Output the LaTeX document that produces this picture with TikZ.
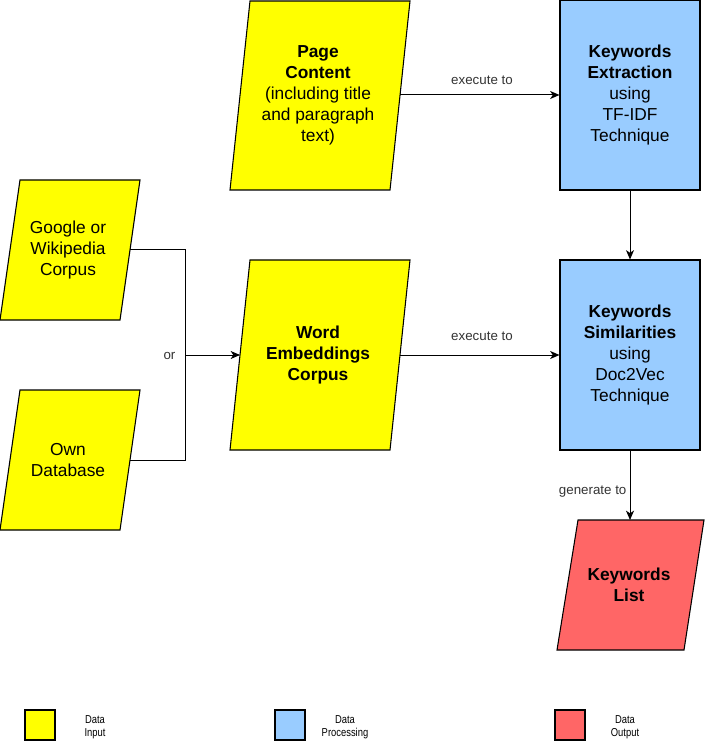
\documentclass[tikz,border=0pt]{standalone}
\usepackage{fontspec}
\setmainfont{Liberation Sans}
\newfontfamily\legfont[FakeStretch=0.82]{Liberation Sans}
\usetikzlibrary{arrows.meta}
\definecolor{datain}{HTML}{FFFF00}
\definecolor{dataproc}{HTML}{99CCFF}
\definecolor{dataout}{HTML}{FF6666}
\definecolor{lbl}{HTML}{333333}
\tikzset{
  shapeline/.style={draw=black, line width=0.8pt},
  inbox/.style={shapeline, fill=datain},
  outbox/.style={shapeline, fill=dataout},
  procbox/.style={shapeline, fill=dataproc, minimum width=105pt, minimum height=142.5pt, inner sep=0pt},
  txt/.style={align=center, font=\fontsize{13}{15.8}\selectfont, text=black, inner sep=1pt},
  conn/.style={draw=black, line width=0.75pt},
  arr/.style={conn, -{Stealth[length=7pt,width=6pt,inset=2pt]}},
  lab/.style={font=\fontsize{10}{12}\selectfont, text=lbl, inner sep=1pt},
  legbox/.style={shapeline, minimum width=22.5pt, minimum height=22.5pt, inner sep=0pt},
  legtxt/.style={align=center, font=\legfont\fontsize{8.6}{10}\selectfont, text=black, inner sep=0pt},
}
\begin{document}
\begin{tikzpicture}[x=0.75pt, y=-0.75pt]
\useasboundingbox (0,0) rectangle (704,741);

% Page Content
\draw[inbox] (250,1) -- (410,1) -- (390,190) -- (230,190) -- cycle;
\node[txt] (page) at (318,95) {\textbf{Page}\\\textbf{Content}\\(including title\\and paragraph\\text)};
\coordinate (pageR) at (400,95);

% Keywords Extraction
\node[procbox] (kex) at (630,95) {};
\node[txt] (kextxt) at (630,95) {\textbf{Keywords}\\\textbf{Extraction}\\using\\TF-IDF\\Technique};

% Google or Wikipedia Corpus
\draw[inbox] (20,180) -- (140,180) -- (120,320) -- (0,320) -- cycle;
\node[txt] (google) at (68,250) {Google or\\Wikipedia\\Corpus};
\coordinate (googleR) at (130,250);

% Own Database
\draw[inbox] (20,390) -- (140,390) -- (120,530) -- (0,530) -- cycle;
\node[txt] (own) at (68,460) {Own\\Database};
\coordinate (ownR) at (130,460);

% Word Embeddings Corpus
\draw[inbox] (250,260) -- (410,260) -- (390,450) -- (230,450) -- cycle;
\node[txt] (word) at (318,355) {\textbf{Word}\\\textbf{Embeddings}\\\textbf{Corpus}};
\coordinate (wordL) at (240,355);
\coordinate (wordR) at (400,355);

% Keywords Similarities
\node[procbox] (ksim) at (630,355) {};
\node[txt] (ksimtxt) at (630,355) {\textbf{Keywords}\\\textbf{Similarities}\\using\\Doc2Vec\\Technique};

% Keywords List
\draw[outbox] (578,520) -- (704,520) -- (684,650) -- (557,650) -- cycle;
\coordinate (listT) at (630,520);
\node[txt] (list) at (629,585) {\textbf{Keywords}\\\textbf{List}};

% connectors
\coordinate (joinT) at (185,250);
\coordinate (joinB) at (185,460);
\coordinate (joinM) at (185,355);
\draw[conn] (googleR) -- (joinT) -- (joinB) -- (ownR);
\draw[arr] (joinM) -- (wordL);
\node[lab, anchor=east] (orlab) at (177,356) {or};

\draw[arr] (pageR) -- (kex.west);
\node[lab] (ex1) at (482,80) {execute to};
\draw[arr] (wordR) -- (ksim.west);
\node[lab] (ex2) at (482,336) {execute to};
\draw[arr] (kex.south) -- (ksim.north);
\draw[arr] (ksim.south) -- (listT);
\node[lab, anchor=east] (gen) at (628,492) {generate to};

% legend
\node[legbox, fill=datain] (leg1) at (40,725) {};
\node[legtxt] (leg1t) at (95,727) {Data\\Input};
\node[legbox, fill=dataproc] (leg2) at (290,725) {};
\node[legtxt] (leg2t) at (345,727) {Data\\Processing};
\node[legbox, fill=dataout] (leg3) at (570,725) {};
\node[legtxt] (leg3t) at (625,727) {Data\\Output};
\end{tikzpicture}
\end{document}
